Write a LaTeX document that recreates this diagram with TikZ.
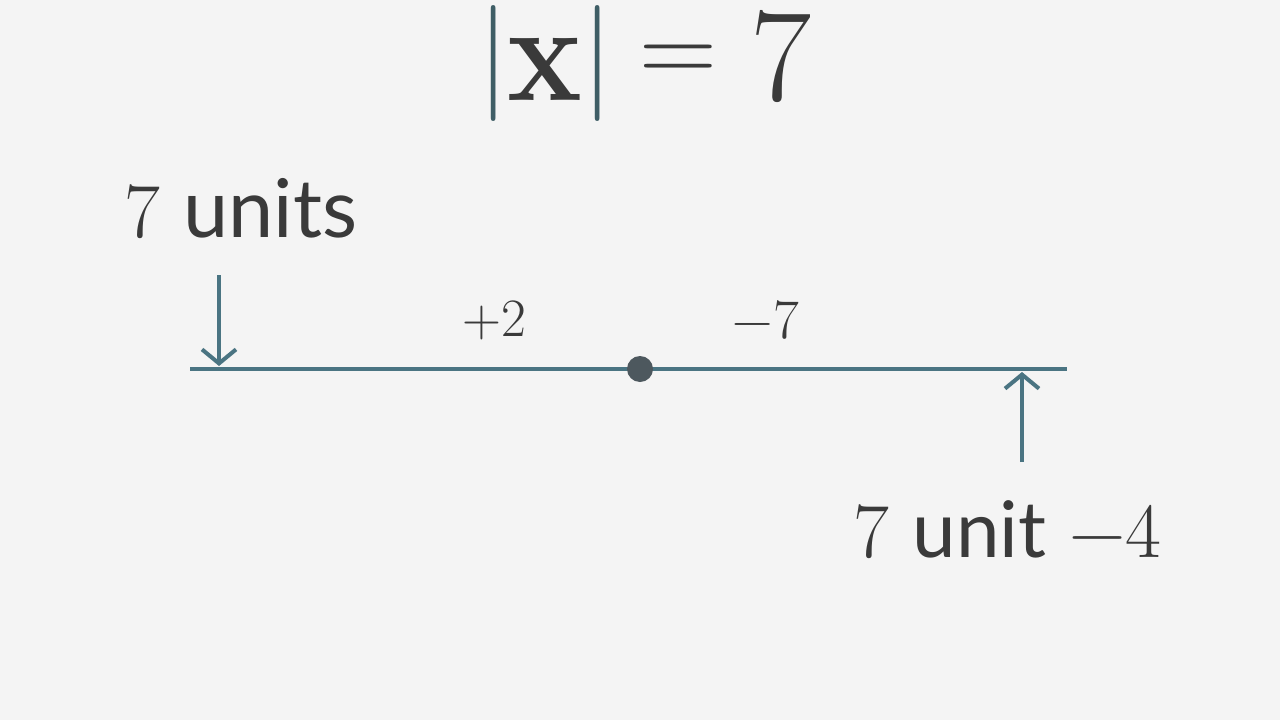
\documentclass[tikz,border=0pt]{standalone}
\usepackage{fontspec}
\newfontfamily\labelsans{Lato}
\usetikzlibrary{arrows.meta}
\definecolor{bgc}{HTML}{F4F4F4}
\definecolor{linec}{HTML}{4A7482}
\definecolor{txt}{HTML}{3A3A3A}
\definecolor{dotc}{HTML}{4D585E}
\definecolor{barc}{HTML}{3F5E66}
\tikzset{
  numline/.style={draw=linec, line width=4.5pt},
  pointer/.style={draw=linec, line width=4pt, -{Straight Barb[length=14pt,width=34pt,line width=4pt]}},
  lbl/.style={text=txt, inner sep=0pt},
}
\begin{document}
\begin{tikzpicture}[x=1pt,y=-1pt]
\fill[bgc] (0,0) rectangle (1280,720);
\useasboundingbox (0,0) rectangle (1280,720);
% title |x| = 7
\node[lbl, text=barc, anchor=base] (bar1) at (494,92) {\fontsize{116}{130}\selectfont |};
\node[lbl, anchor=base, xscale=0.9] (xx) at (545,100) {\fontsize{140}{150}\selectfont\bfseries x};
\node[lbl, text=barc, anchor=base] (bar2) at (598,92) {\fontsize{116}{130}\selectfont |};
\node[lbl, anchor=base] (eq) at (678,83) {\fontsize{108}{110}\selectfont =};
\node[lbl, anchor=base] (seven) at (781,100) {\fontsize{133}{140}\selectfont 7};
% number line
\coordinate (L) at (190,369);
\coordinate (R) at (1067,369);
\draw[numline] (L) -- (R);
\node[circle, fill=dotc, minimum size=26pt, inner sep=0pt] (dot) at (640,369) {};
% labels on line
\node[lbl, anchor=base] (p2) at (494,336) {\fontsize{54}{60}\selectfont +2};
\node[lbl, anchor=base] (m7) at (766,338) {\fontsize{56}{60}\selectfont \char"2212 7};
% left arrow
\coordinate (a1s) at (219,275);
\coordinate (a1e) at (219,366);
\draw[pointer] (a1s) -- (a1e);
\node[lbl, anchor=base west] (u1) at (124,237) {\fontsize{78}{84}\selectfont 7 {\fontsize{81}{84}\selectfont\labelsans units}};
% right arrow
\coordinate (a2s) at (1022,462);
\coordinate (a2e) at (1022,372);
\draw[pointer] (a2s) -- (a2e);
\node[lbl, anchor=base west] (u2) at (853,557) {\fontsize{78}{84}\selectfont 7 {\labelsans unit} \char"2212 4};
\end{tikzpicture}
\end{document}
